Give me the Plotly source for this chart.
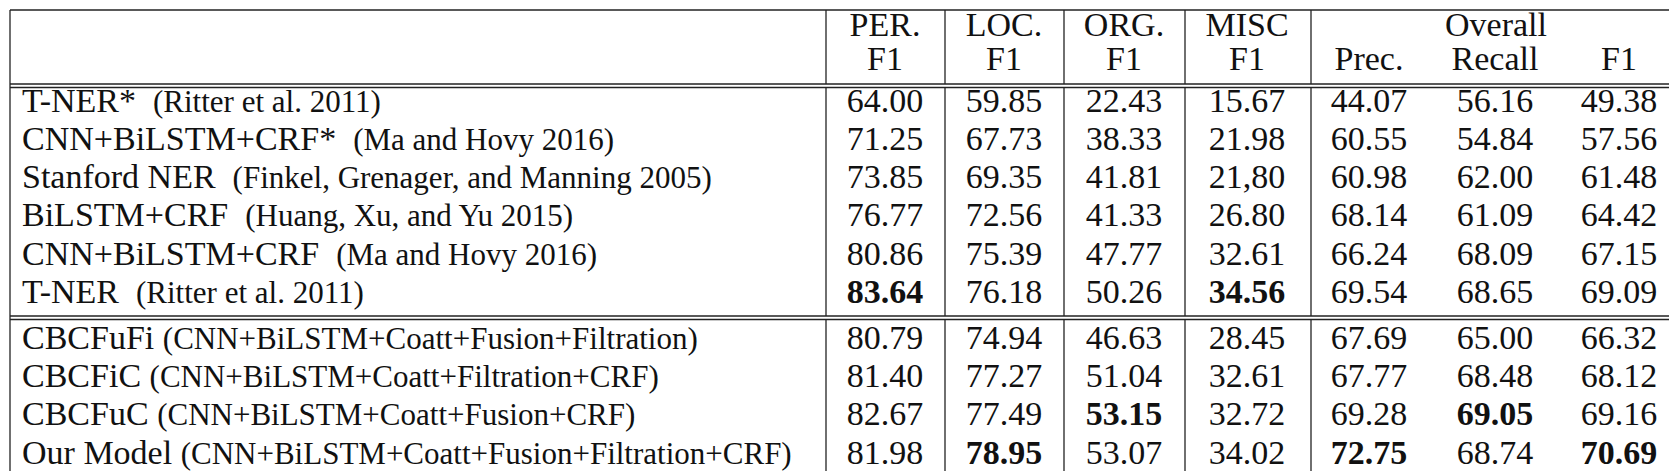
"""NER results table drawn with plotly scatter text + shapes."""
import plotly.graph_objects as go

# ---- data ----
models = ["T-NER*", "CNN+BiLSTM+CRF*", "Stanford NER", "BiLSTM+CRF",
          "CNN+BiLSTM+CRF", "T-NER",
          "CBCFuFi", "CBCFiC", "CBCFuC", "Our Model"]
citations = ["(Ritter et al. 2011)", "(Ma and Hovy 2016)",
             "(Finkel, Grenager, and Manning 2005)", "(Huang, Xu, and Yu 2015)",
             "(Ma and Hovy 2016)", "(Ritter et al. 2011)",
             "(CNN+BiLSTM+Coatt+Fusion+Filtration)",
             "(CNN+BiLSTM+Coatt+Filtration+CRF)",
             "(CNN+BiLSTM+Coatt+Fusion+CRF)",
             "(CNN+BiLSTM+Coatt+Fusion+Filtration+CRF)"]

per_f1 = ["64.00", "71.25", "73.85", "76.77", "80.86", "83.64",
          "80.79", "81.40", "82.67", "81.98"]
loc_f1 = ["59.85", "67.73", "69.35", "72.56", "75.39", "76.18",
          "74.94", "77.27", "77.49", "78.95"]
org_f1 = ["22.43", "38.33", "41.81", "41.33", "47.77", "50.26",
          "46.63", "51.04", "53.15", "53.07"]
misc_f1 = ["15.67", "21.98", "21,80", "26.80", "32.61", "34.56",
           "28.45", "32.61", "32.72", "34.02"]
overall_prec = ["44.07", "60.55", "60.98", "68.14", "66.24", "69.54",
                "67.69", "67.77", "69.28", "72.75"]
overall_recall = ["56.16", "54.84", "62.00", "61.09", "68.09", "68.65",
                  "65.00", "68.48", "69.05", "68.74"]
overall_f1 = ["49.38", "57.56", "61.48", "64.42", "67.15", "69.09",
              "66.32", "68.12", "69.16", "70.69"]

header_top = ["PER.", "LOC.", "ORG.", "MISC", "Overall"]
header_bottom = ["F1", "F1", "F1", "F1", "Prec.", "Recall", "F1"]

baselines = 6  # first block rows, the rest are our variants

# ---- layout constants (pixels) ----
W, H = 1677, 471
FONT = "Liberation Serif"
INK = "#111111"
SIZE = 34
col_edges = [818, 937, 1056, 1177, 1303]
num_cx = [877, 996, 1116, 1239, 1361, 1487, 1611]
top_cx = [877, 996, 1116, 1239, 1488]
row_y = [95 + 38.3 * i for i in range(baselines)] + \
        [332.5 + 38.2 * i for i in range(len(models) - baselines)]

fig = go.Figure()

# header text
fig.add_trace(go.Scatter(x=top_cx, y=[19] * len(top_cx), mode="text",
                         text=header_top, textposition="middle center",
                         cliponaxis=False,
                         textfont=dict(family=FONT, size=SIZE, color=INK)))
fig.add_trace(go.Scatter(x=num_cx, y=[53.5] * len(num_cx), mode="text",
                         text=header_bottom, textposition="middle center",
                         cliponaxis=False,
                         textfont=dict(family=FONT, size=SIZE, color=INK)))

# model names with citation in smaller type
labels = []
for i, (m, c) in enumerate(zip(models, citations)):
    gap = "\u00a0\u00a0" if i < baselines else "\u00a0"
    size = 31 if i < baselines else 31
    labels.append(f"{m}{gap}<span style='font-size:{size}px'>{c}</span>")
fig.add_trace(go.Scatter(x=[14] * len(models), y=row_y, mode="text",
                         text=labels, textposition="middle right",
                         cliponaxis=False,
                         textfont=dict(family=FONT, size=SIZE, color=INK)))

# numeric columns, best value per column in bold
columns = [per_f1, loc_f1, org_f1, misc_f1, overall_prec, overall_recall, overall_f1]
for cx, col in zip(num_cx, columns):
    vals = [float(v.replace(",", ".")) for v in col]
    best = max(vals)
    txt = [f"<b>{s}</b>" if v == best else s for s, v in zip(col, vals)]
    fig.add_trace(go.Scatter(x=[cx] * len(col), y=row_y, mode="text",
                             text=txt, textposition="middle center",
                             cliponaxis=False,
                             textfont=dict(family=FONT, size=SIZE, color=INK)))

# rules
line = dict(color="#222222", width=1.3)
shapes = [
    dict(type="line", x0=2, x1=1674, y0=2, y1=2, line=line),
    dict(type="line", x0=2, x1=1674, y0=76, y1=76, line=line),
    dict(type="line", x0=2, x1=1674, y0=79.5, y1=79.5, line=line),
    dict(type="line", x0=2, x1=1674, y0=308, y1=308, line=line),
    dict(type="line", x0=2, x1=1674, y0=311.5, y1=311.5, line=line),
    dict(type="line", x0=2, x1=1674, y0=467, y1=467, line=dict(color="#222222", width=2)),
    dict(type="line", x0=2, x1=2, y0=2, y1=467, line=line),
    dict(type="line", x0=1674, x1=1674, y0=2, y1=467, line=line),
]
for xe in col_edges:
    for y0, y1 in [(2, 76), (79.5, 308), (311.5, 467)]:
        shapes.append(dict(type="line", x0=xe, x1=xe, y0=y0, y1=y1, line=line))

fig.update_layout(
    width=W, height=H, margin=dict(l=0, r=0, t=0, b=0),
    paper_bgcolor="white", plot_bgcolor="white", showlegend=False,
    shapes=shapes,
    xaxis=dict(range=[0, W], visible=False, fixedrange=True),
    yaxis=dict(range=[H, 0], visible=False, fixedrange=True),
)

fig.write_html("out.html", config={"displayModeBar": False})
